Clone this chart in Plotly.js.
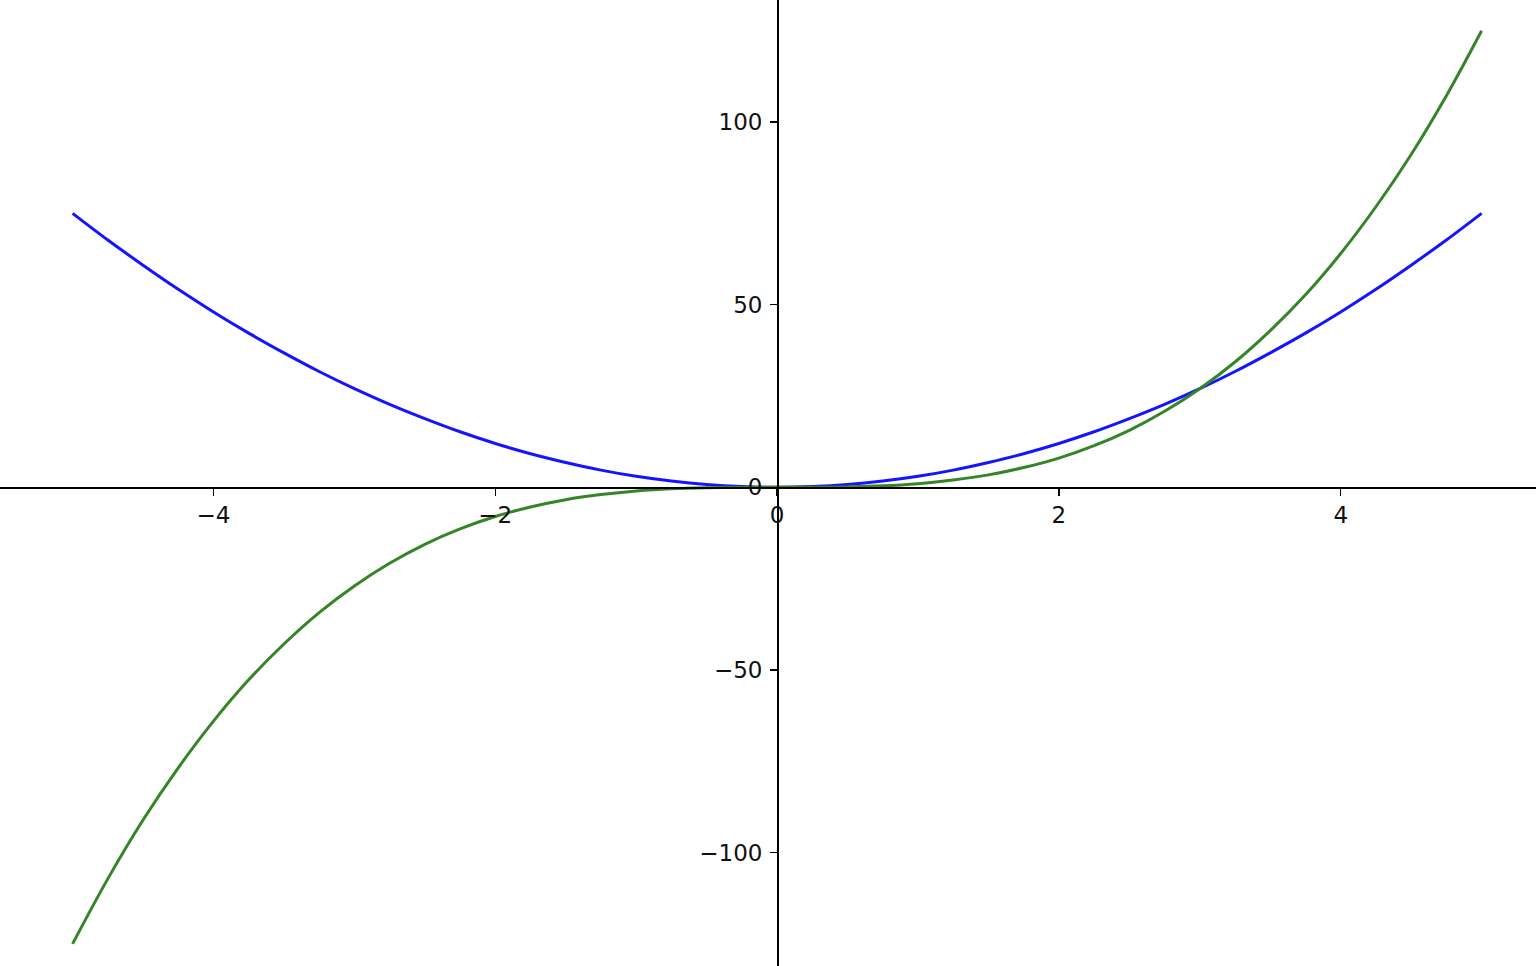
<!DOCTYPE html>
<html>
<head>
<meta charset="utf-8">
<script src="https://cdn.plot.ly/plotly-3.0.1.min.js"></script>
<style>
  html, body { margin: 0; padding: 0; background: #fff; }
  #chart { width: 1536px; height: 966px; }
</style>
</head>
<body>
<div id="chart"></div>
<script>
// x samples
const xs = [-5, -4.75, -4.5, -4.25, -4, -3.75, -3.5, -3.25, -3, -2.75, -2.5, -2.25, -2, -1.75, -1.5, -1.25, -1, -0.75, -0.5, -0.25,
  0, 0.25, 0.5, 0.75, 1, 1.25, 1.5, 1.75, 2, 2.25, 2.5, 2.75, 3, 3.25, 3.5, 3.75, 4, 4.25, 4.5, 4.75, 5];

// blue curve (parabola)
const blueY = [75, 67.7, 60.8, 54.2, 48, 42.2, 36.8, 31.7, 27, 22.7, 18.8, 15.2, 12, 9.2, 6.8, 4.7, 3, 1.7, 0.75, 0.2,
  0, 0.2, 0.75, 1.7, 3, 4.7, 6.8, 9.2, 12, 15.2, 18.8, 22.7, 27, 31.7, 36.8, 42.2, 48, 54.2, 60.8, 67.7, 75];

// green curve (cubic)
const greenY = [-125, -107.2, -91.1, -76.8, -64, -52.7, -42.9, -34.3, -27, -20.8, -15.6, -11.4, -8, -5.4, -3.4, -2, -1, -0.4, -0.1, 0,
  0, 0, 0.1, 0.4, 1, 2, 3.4, 5.4, 8, 11.4, 15.6, 20.8, 27, 34.3, 42.9, 52.7, 64, 76.8, 91.1, 107.2, 125];

const xTicks = [-4, -2, 0, 2, 4];
const yTicks = [-100, -50, 0, 50, 100];

const xRange = [-5.515, 5.386];
const yRange = [-131.05, 133.4];

// spines cross at the origin, like the matplotlib original
const xAxisPos = (0 - yRange[0]) / (yRange[1] - yRange[0]);
const yAxisPos = (0 - xRange[0]) / (xRange[1] - xRange[0]);

const axisCommon = {
  showgrid: false,
  zeroline: false,
  showline: true,
  linecolor: "#000",
  linewidth: 1.5,
  ticks: "outside",
  ticklen: 7,
  tickwidth: 1.5,
  tickcolor: "#000",
  tickfont: { family: "DejaVu Sans", size: 23, color: "#111" },
  anchor: "free",
  fixedrange: true,
};

Plotly.newPlot(
  "chart",
  [
    {
      x: xs,
      y: blueY,
      mode: "lines",
      line: { color: "#1414ff", width: 3, shape: "spline" },
      showlegend: false,
    },
    {
      x: xs,
      y: greenY,
      mode: "lines",
      line: { color: "#358528", width: 3, shape: "spline" },
      showlegend: false,
    },
  ],
  {
    width: 1536,
    height: 966,
    margin: { l: 0, r: 0, t: 0, b: 0 },
    paper_bgcolor: "#fff",
    plot_bgcolor: "#fff",
    xaxis: Object.assign({}, axisCommon, {
      range: xRange,
      tickvals: xTicks,
      domain: [0, 1],
      position: xAxisPos,
    }),
    yaxis: Object.assign({}, axisCommon, {
      range: yRange,
      tickvals: yTicks,
      domain: [0, 1],
      position: yAxisPos,
      ticklabelstandoff: 3,
    }),
  },
  { staticPlot: true }
);
</script>
</body>
</html>
